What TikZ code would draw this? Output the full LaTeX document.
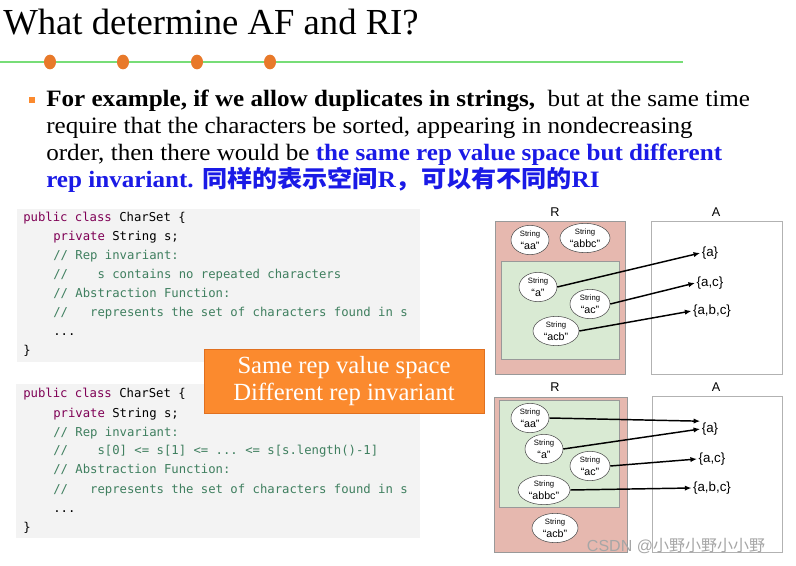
\documentclass[tikz,border=0pt]{standalone}
\usepackage{fontspec}
\setmainfont{Liberation Serif}
\setsansfont{Liberation Sans}
\setmonofont{DejaVu Sans Mono}
\newfontfamily\cjk{Noto Sans CJK SC}
\usetikzlibrary{shapes.geometric,arrows.meta}
\definecolor{kw}{HTML}{7F0055}
\definecolor{cm}{HTML}{3F7F5F}
\definecolor{codebg}{HTML}{F3F3F3}
\definecolor{orangeA}{HTML}{FB8A2E}
\definecolor{orangeB}{HTML}{E07020}
\definecolor{pinkR}{HTML}{E6B8AF}
\definecolor{greenR}{HTML}{D9EAD3}
\definecolor{lineG}{HTML}{77DD77}
\definecolor{dotO}{HTML}{E8792A}
\definecolor{blueT}{HTML}{1A1AE6}
\tikzset{
  codeline/.style={anchor=base west,inner sep=0,font=\ttfamily\fontsize{9.2}{11}\selectfont},
  strel/.style={ellipse,draw=black!70,fill=white,inner sep=0,minimum width=#1*0.75pt,minimum height=22pt,align=center,font=\sffamily,line width=0.4pt},
  setlab/.style={font=\sffamily\fontsize{10}{11}\selectfont,inner sep=1pt},
  maparrow/.style={-{Latex[length=5pt,width=4pt]},line width=1.1pt},
  bodyline/.style={anchor=base west,inner sep=0,font=\fontsize{17.6}{19}\selectfont},
  hdr/.style={font=\sffamily\fontsize{9.5}{11}\selectfont}
}
\newcommand{\strtxt}[1]{{\fontsize{5.8}{6}\selectfont String}\\[-2pt]{\fontsize{8}{8}\selectfont “#1”}}
\newcommand{\wide}[1]{\scalebox{1.07}[1]{#1}}
\begin{document}
\begin{tikzpicture}[x=0.75pt,y=-0.75pt]
\useasboundingbox (0,0) rectangle (796,566);
\fill[white] (0,0) rectangle (796,566);
% title
\node[anchor=base west,inner sep=0,font=\fontsize{27.5}{30}\selectfont] (title) at (3,35) {What determine AF and RI?};
\draw[lineG,line width=1.6pt] (0,62) -- (683,62);
\foreach \xx/\nm in {50/d1,123/d2,197/d3,270/d4}
  \node[ellipse,fill=dotO,minimum width=9pt,minimum height=11pt,inner sep=0] (\nm) at (\xx,62) {};
% bullet
\node[fill=orangeA,minimum size=4.5pt,inner sep=0] (bul) at (32,100) {};
\node[bodyline] (l1) at (46,107) {\wide{\textbf{For example, if we allow duplicates in strings,}\ \ but at the same time}};
\node[bodyline] (l2) at (46,134) {\wide{require that the characters be sorted, appearing in nondecreasing}};
\node[bodyline] (l3) at (46,161) {\wide{order, then there would be \textcolor{blueT}{\textbf{the same rep value space but different}}}};
\node[bodyline] (l4) at (46,188) {\wide{\textcolor{blueT}{\textbf{rep invariant. {\cjk 同样的表示空间}R{\cjk ，可以有不同的}RI}}}};
% code boxes
\fill[codebg] (17,209) rectangle (420,362);
\fill[codebg] (16,384) rectangle (420,538);
\node[codeline] (c1) at (23,222) {\textcolor{kw}{public class} CharSet \{};
\node[codeline] (c2) at (53,241) {\textcolor{kw}{private} String s;};
\node[codeline] (c3) at (53,260) {\textcolor{cm}{// Rep invariant:}};
\node[codeline] (c4) at (53,279) {\textcolor{cm}{//\ \ \ \ s contains no repeated characters}};
\node[codeline] (c5) at (53,298) {\textcolor{cm}{// Abstraction Function:}};
\node[codeline] (c6) at (53,317) {\textcolor{cm}{//\ \ \ represents the set of characters found in s}};
\node[codeline] (c7) at (53,336) {...};
\node[codeline] (c8) at (23,355) {\}};
\node[codeline] (e1) at (23,398) {\textcolor{kw}{public class} CharSet \{};
\node[codeline] (e2) at (53,417) {\textcolor{kw}{private} String s;};
\node[codeline] (e3) at (53,436) {\textcolor{cm}{// Rep invariant:}};
\node[codeline] (e4) at (53,455) {\textcolor{cm}{//\ \ \ \ s[0] <= s[1] <= ... <= s[s.length()-1]}};
\node[codeline] (e5) at (53,474) {\textcolor{cm}{// Abstraction Function:}};
\node[codeline] (e6) at (53,493) {\textcolor{cm}{//\ \ \ represents the set of characters found in s}};
\node[codeline] (e7) at (53,512) {...};
\node[codeline] (e8) at (23,531) {\}};
% orange callout
\draw[orangeB,fill=orangeA,line width=0.6pt] (204,349) rectangle (484,413);
\node[text=white,align=center,font=\fontsize{18.5}{20}\selectfont] (callout) at (344,381) {Same rep value space\\Different rep invariant};
% diagram 1
\node[hdr] (R1) at (555,212) {R};
\node[hdr] (A1) at (716,212) {A};
\draw[black!40,fill=pinkR] (495,221) rectangle (625,374);
\draw[black!40,fill=greenR] (501,261) rectangle (619,359);
\draw[black!30,fill=white] (651,221) rectangle (782,374);
\node[strel=38] (s1aa) at (530,240) {\strtxt{aa}};
\node[strel=50] (s1abbc) at (585,238) {\strtxt{abbc}};
\node[strel=38] (s1a) at (538,287) {\strtxt{a}};
\node[strel=40] (s1ac) at (590,304) {\strtxt{ac}};
\node[strel=46] (s1acb) at (556,331) {\strtxt{acb}};
\node[setlab] (t1a) at (710,253) {\{a\}};
\node[setlab] (t1ac) at (710,283) {\{a,c\}};
\node[setlab] (t1abc) at (712,311) {\{a,b,c\}};
\draw[maparrow] (s1a.east) -- (t1a.west);
\draw[maparrow] (s1ac.east) -- (t1ac.west);
\draw[maparrow] (s1acb.east) -- (t1abc.west);
% diagram 2
\node[hdr] (R2) at (555,387) {R};
\node[hdr] (A2) at (716,387) {A};
\draw[black!40,fill=pinkR] (494,397) rectangle (627,552);
\draw[black!40,fill=greenR] (499,400) rectangle (619,507);
\draw[black!30,fill=white] (652,396) rectangle (782,552);
\node[strel=38] (s2aa) at (530,418) {\strtxt{aa}};
\node[strel=38] (s2a) at (544,449) {\strtxt{a}};
\node[strel=40] (s2ac) at (590,466) {\strtxt{ac}};
\node[strel=52] (s2abbc) at (544,490) {\strtxt{abbc}};
\node[strel=46] (s2acb) at (555,528) {\strtxt{acb}};
\node[setlab] (t2a) at (710,429) {\{a\}};
\node[setlab] (t2ac) at (712,459) {\{a,c\}};
\node[setlab] (t2abc) at (712,488) {\{a,b,c\}};
\draw[maparrow] (s2aa.east) -- (t2a.north west);
\draw[maparrow] (s2a.east) -- (t2a.west);
\draw[maparrow] (s2ac.east) -- (t2ac.west);
\draw[maparrow] (s2abbc.east) -- (t2abc.west);
% watermark
\node[text=black!35,font=\sffamily\fontsize{12}{14}\selectfont,inner sep=0] (wm) at (676,546) {CSDN @{\cjk 小野小野小小野}};
\end{tikzpicture}
\end{document}
